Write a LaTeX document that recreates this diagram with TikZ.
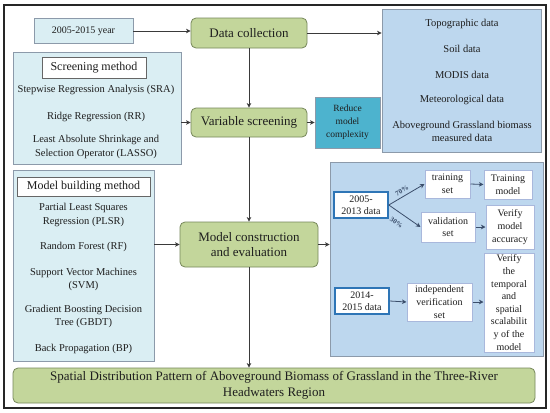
\documentclass[tikz,border=0pt]{standalone}
\usepackage{fontspec}
\setmainfont{Liberation Serif}
\usetikzlibrary{arrows.meta,calc}
\definecolor{lcyan}{HTML}{DAEEF3}
\definecolor{lblue}{HTML}{BDD7EE}
\definecolor{lgreen}{HTML}{C3D69B}
\definecolor{mcyan}{HTML}{4DB3CE}
\definecolor{bordgray}{HTML}{8C9AAA}
\definecolor{greenbord}{HTML}{76875A}
\definecolor{darkblue}{HTML}{2E75B6}
\definecolor{boxbord}{HTML}{A9B8DC}
\definecolor{arr}{HTML}{3A3A3A}
\definecolor{arrb}{HTML}{3B4E6B}
\definecolor{txt}{HTML}{1E1E1E}
\begin{document}
\begin{tikzpicture}[x=1pt,y=-1pt,
  wh/.style 2 args={minimum width=#1pt, minimum height=#2pt},
  lightbox/.style={draw=bordgray, fill=lcyan, line width=0.8pt, inner sep=0pt},
  bluebox/.style={draw=bordgray, fill=lblue, line width=0.8pt, inner sep=0pt},
  greenbox/.style={draw=greenbord, fill=lgreen, rounded corners=5pt, line width=0.8pt, inner sep=0pt, align=center, text=txt, font=\fontsize{13}{15.5}\selectfont},
  titlebox/.style={draw=gray!80!black, fill=white, line width=0.8pt, inner sep=0pt, text=txt, font=\fontsize{12}{14}\selectfont},
  itemtext/.style={font=\fontsize{10.5}{13.5}\selectfont, align=center, inner sep=0pt, text=txt},
  whitebox/.style={draw=boxbord, fill=white, line width=1pt, inner sep=0pt, align=center, text=txt, font=\fontsize{10}{12.6}\selectfont},
  yearbox/.style={draw=darkblue, fill=white, line width=1.6pt, inner sep=0pt, align=center, text=txt, font=\fontsize{10}{12.5}\selectfont},
  arrow/.style={draw=arr, line width=0.8pt, -{Stealth[length=4.5pt,width=4.5pt,inset=1.2pt]}},
  barrow/.style={draw=arrb, line width=0.8pt, -{Stealth[length=4.5pt,width=4.5pt,inset=1.2pt]}},
  pct/.style={font=\fontsize{7}{7.5}\selectfont\bfseries, text=arrb, inner sep=0pt}
]
\useasboundingbox (0,0) rectangle (550,413);
\fill[white] (0,0) rectangle (550,413);
\draw[line width=1.5pt, black!85] (4,5) rectangle (546,408);

% top row
\node[lightbox, wh={99}{25}, text=txt, font=\fontsize{10}{12}\selectfont] (year) at (83.5,31) {2005-2015 year};
\node[greenbox, wh={116}{30}] (datacol) at (249,33) {Data collection};
\node[bluebox, wh={159}{143}] (databox) at (461.5,80.5) {};
\node[itemtext] (d1) at (462,24) {Topographic data};
\node[itemtext] (d2) at (462,49) {Soil data};
\node[itemtext] (d3) at (462,75) {MODIS data};
\node[itemtext] (d4) at (462,100) {Meteorological data};
\node[itemtext] (d5) at (462,131.5) {Aboveground Grassland biomass\\measured data};

% screening
\node[lightbox, wh={168}{112}] (screen) at (97,108) {};
\node[titlebox, wh={104}{21}] (screentitle) at (94,67.5) {Screening method};
\node[itemtext] (s1) at (96,90) {Stepwise Regression Analysis (SRA)};
\node[itemtext] (s2) at (96,117) {Ridge Regression (RR)};
\node[itemtext] (s3) at (96,147) {Least Absolute Shrinkage and\\Selection Operator (LASSO)};

\node[greenbox, wh={116}{29}] (varscr) at (249,122.5) {Variable screening};
\node[draw=bordgray, fill=mcyan, line width=0.8pt, inner sep=0pt, wh={65}{51}, align=center, text=txt, font=\fontsize{9.5}{13}\selectfont] (reduce) at (347.5,122.5) {Reduce\\model\\complexity};

% model building
\node[lightbox, wh={141}{191}] (mb) at (83.5,265.5) {};
\node[titlebox, wh={133}{19}] (mbtitle) at (83.5,186.5) {Model building method};
\node[itemtext] (m1) at (83.5,215) {Partial Least Squares\\Regression (PLSR)};
\node[itemtext] (m2) at (83.5,247) {Random Forest (RF)};
\node[itemtext] (m3) at (83.5,279.5) {Support Vector Machines\\(SVM)};
\node[itemtext] (m4) at (83.5,316.5) {Gradient Boosting Decision\\Tree (GBDT)};
\node[itemtext] (m5) at (83.5,349) {Back Propagation (BP)};

\node[greenbox, wh={138}{45}] (modelcon) at (249,244.5) {Model construction\\and evaluation};

% right panel
\node[bluebox, wh={213}{194}] (panel) at (436.5,259) {};
\node[yearbox, wh={54}{26}] (d0513) at (361,205) {2005-\\2013 data};
\node[whitebox, wh={45}{28}] (trainset) at (447.5,184) {training\\set};
\node[whitebox, wh={48}{29}] (trainmodel) at (508,184.5) {Training\\model};
\node[whitebox, wh={54}{30}] (valset) at (448,227) {validation\\set};
\node[whitebox, wh={48}{44}] (verifyacc) at (510,227) {Verify\\model\\accuracy};
\node[whitebox, wh={50}{99}] (verifyts) at (509,302.5) {Verify\\the\\temporal\\and\\spatial\\scalabilit\\y of the\\model};
\node[yearbox, wh={54}{26}] (d1415) at (362,301) {2014-\\2015 data};
\node[whitebox, wh={65}{38}] (indep) at (439.5,302) {independent\\verification\\set};

% bottom
\node[greenbox, wh={522}{35}] (spatial) at (274,385.5) {Spatial Distribution Pattern of Aboveground Biomass of Grassland in the Three-River\\Headwaters Region};

% connectors
\draw[arrow] (year.east) -- (year.east -| datacol.west);
\draw[arrow] (datacol.east) -- (datacol.east -| databox.west);
\draw[arrow] (datacol.south) -- (varscr.north);
\draw[arrow] (varscr.west -| screen.east) -- (varscr.west);
\draw[arrow] (varscr.east) -- (reduce.west);
\draw[arrow] (varscr.south) -- (modelcon.north);
\draw[arrow] (modelcon.west -| mb.east) -- (modelcon.west);
\draw[arrow] (modelcon.east) -- (modelcon.east -| panel.west);
\draw[arrow] (modelcon.south) -- (modelcon.south |- spatial.north);

\draw[barrow] (d0513.east) -- node[pct, sloped, above=3pt, pos=0.45] {70\%} (trainset.west);
\draw[barrow] (d0513.east) -- node[pct, sloped, below=7pt, pos=0.42] {30\%} (valset.west);
\draw[barrow] (trainset.east) -- (trainmodel.west);
\draw[barrow] (valset.east) -- (verifyacc.west);
\draw[barrow] (d1415.east) -- (indep.west);
\draw[barrow] (indep.east) -- (verifyts.west |- indep.east);
\end{tikzpicture}
\end{document}
